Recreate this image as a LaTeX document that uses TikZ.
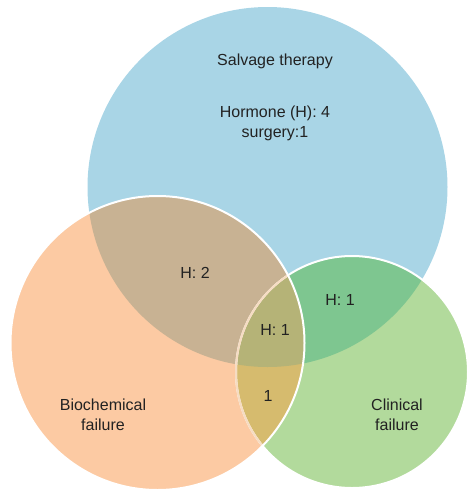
\documentclass[tikz,border=0pt]{standalone}
\usepackage{fontspec}
\setmainfont{Liberation Sans}
\usepackage{xcolor}
\usetikzlibrary{positioning}

\definecolor{salvblue}{HTML}{A9D5E6}
\definecolor{biopeach}{HTML}{FCCAA3}
\definecolor{clingreen}{HTML}{B2DA9C}
\definecolor{sbmix}{HTML}{C8B293}
\definecolor{scmix}{HTML}{7EC690}
\definecolor{bcmix}{HTML}{D6BB6E}
\definecolor{allmix}{HTML}{B5B377}
\definecolor{peachline}{HTML}{F6DCC2}
\definecolor{labelgray}{HTML}{222222}

\begin{document}
\begin{tikzpicture}[x=1pt, y=-1pt,
    setlabel/.style={font=\fontsize{16}{20}\selectfont, text=labelgray, align=center},
    rim/.style={line width=2pt}]
    \useasboundingbox (0,0) rectangle (474,498);

    \coordinate (st) at (267.5,187);
    \coordinate (bf) at (157.5,343);
    \coordinate (cf) at (352,372);
    \def\rst{180}
    \def\rbf{147}
    \def\rcf{116}

    % single sets
    \fill[salvblue] (st) circle[radius=\rst];
    \fill[biopeach] (bf) circle[radius=\rbf];
    \fill[clingreen] (cf) circle[radius=\rcf];

    % pairwise overlaps
    \begin{scope}
        \clip (st) circle[radius=\rst];
        \fill[sbmix] (bf) circle[radius=\rbf];
        \fill[scmix] (cf) circle[radius=\rcf];
    \end{scope}
    \begin{scope}
        \clip (bf) circle[radius=\rbf];
        \fill[bcmix] (cf) circle[radius=\rcf];
        \clip (st) circle[radius=\rst];
        \fill[allmix] (cf) circle[radius=\rcf];
    \end{scope}

    % rims
    \draw[rim, white] (cf) circle[radius=\rcf];
    \begin{scope}
        \clip (bf) circle[radius=\rbf];
        \draw[rim, peachline] (cf) circle[radius=\rcf];
    \end{scope}
    \draw[rim, white] (bf) circle[radius=\rbf];

    % labels
    \node[setlabel] (salv) at (275,61) {Salvage therapy};
    \node[setlabel] (horm) at (275,123) {Hormone (H): 4\\surgery:1};
    \node[setlabel] (hsb) at (195,273) {H: 2};
    \node[setlabel] (hsc) at (340,300) {H: 1};
    \node[setlabel] (hall) at (275,330) {H: 1};
    \node[setlabel] (nbc) at (268,396) {1};
    \node[setlabel] (biochem) at (103,415) {Biochemical\\failure};
    \node[setlabel] (clinical) at (397,415) {Clinical\\failure};
\end{tikzpicture}
\end{document}
